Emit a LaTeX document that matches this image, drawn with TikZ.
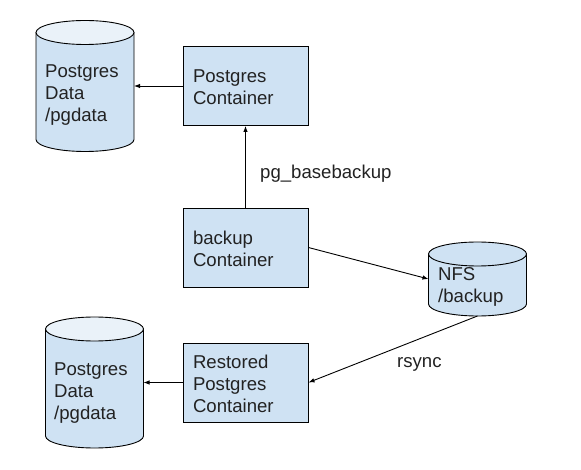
\documentclass[tikz,border=0pt]{standalone}
\usepackage{fontspec}
\setmainfont{Liberation Sans}
\usetikzlibrary{positioning,arrows.meta}

\definecolor{boxblue}{HTML}{CFE2F3}
\definecolor{toplight}{HTML}{EAF2F9}
\definecolor{inkgray}{HTML}{222222}
\tikzset{
  boxnode/.style={draw=black,line width=0.9pt,fill=boxblue,minimum width=125pt,minimum height=79pt,
    text width=105pt,inner sep=0pt,align=left,font=\fontsize{18.6}{22}\selectfont,text=inkgray,
    execute at begin node=\rule{0pt}{16pt}},
  cylnode/.style={inner sep=0pt,outer sep=0pt,minimum width=98pt},
  cylline/.style={draw=black,line width=0.9pt},
  txtnode/.style={inner sep=0pt,align=left,anchor=west,font=\fontsize{18.6}{22}\selectfont,text=inkgray},
  conn/.style={line width=0.9pt,-{Latex[length=6pt,width=4.5pt]}}
}
% name, centre x, centre y, half height, colour of the top
\newcommand{\cylnd}[5]{
  \node[cylnode,minimum height=2*#4] (#1) at (#2,#3) {};
  \draw[cylline,fill=boxblue] (#2-49,#3-#4+12) -- (#2-49,#3+#4-12)
    arc[start angle=180,end angle=0,x radius=49,y radius=12] -- (#2+49,#3-#4+12) -- cycle;
  \draw[cylline,fill=#5] (#2,#3-#4+12) ellipse[x radius=49,y radius=12];
}

\begin{document}
\begin{tikzpicture}[x=1pt,y=-1pt]
  \useasboundingbox (0,0) rectangle (581,470);
  % boxes in the middle column
  \node[boxnode] (postgres) at (245.5,86) {Postgres\\Container};
  \node[boxnode] (backup) at (245.5,247.5) {backup\\Container};
  \node[boxnode] (restored) at (245.5,382.5) {Restored\\Postgres\\Container};
  % cylinders
  \cylnd{pgdata}{85}{86}{65.5}{toplight}
  \cylnd{pgcopy}{94.5}{382.5}{65.5}{toplight}
  \cylnd{nfs}{477.5}{279}{37}{boxblue}
  \node[txtnode] (pgdatatxt) at (45,95) {Postgres\\Data\\/pgdata};
  \node[txtnode] (pgcopytxt) at (54,393) {Postgres\\Data\\/pgdata};
  \node[txtnode] (nfstxt) at (438,287) {NFS\\/backup};
  % connectors
  \draw[conn] (postgres.west) -- (pgdata.east);
  \draw[conn] (backup.north) -- (postgres.south);
  \draw[conn] (backup.east) -- (nfs.west);
  \draw[conn] (nfs.south) -- (restored.east);
  \draw[conn] (restored.west) -- (pgcopy.east);
  \node[txtnode] (basebackuplabel) at (260,174) {pg\_basebackup};
  \node[txtnode] (rsynclabel) at (397,364) {rsync};
\end{tikzpicture}
\end{document}
